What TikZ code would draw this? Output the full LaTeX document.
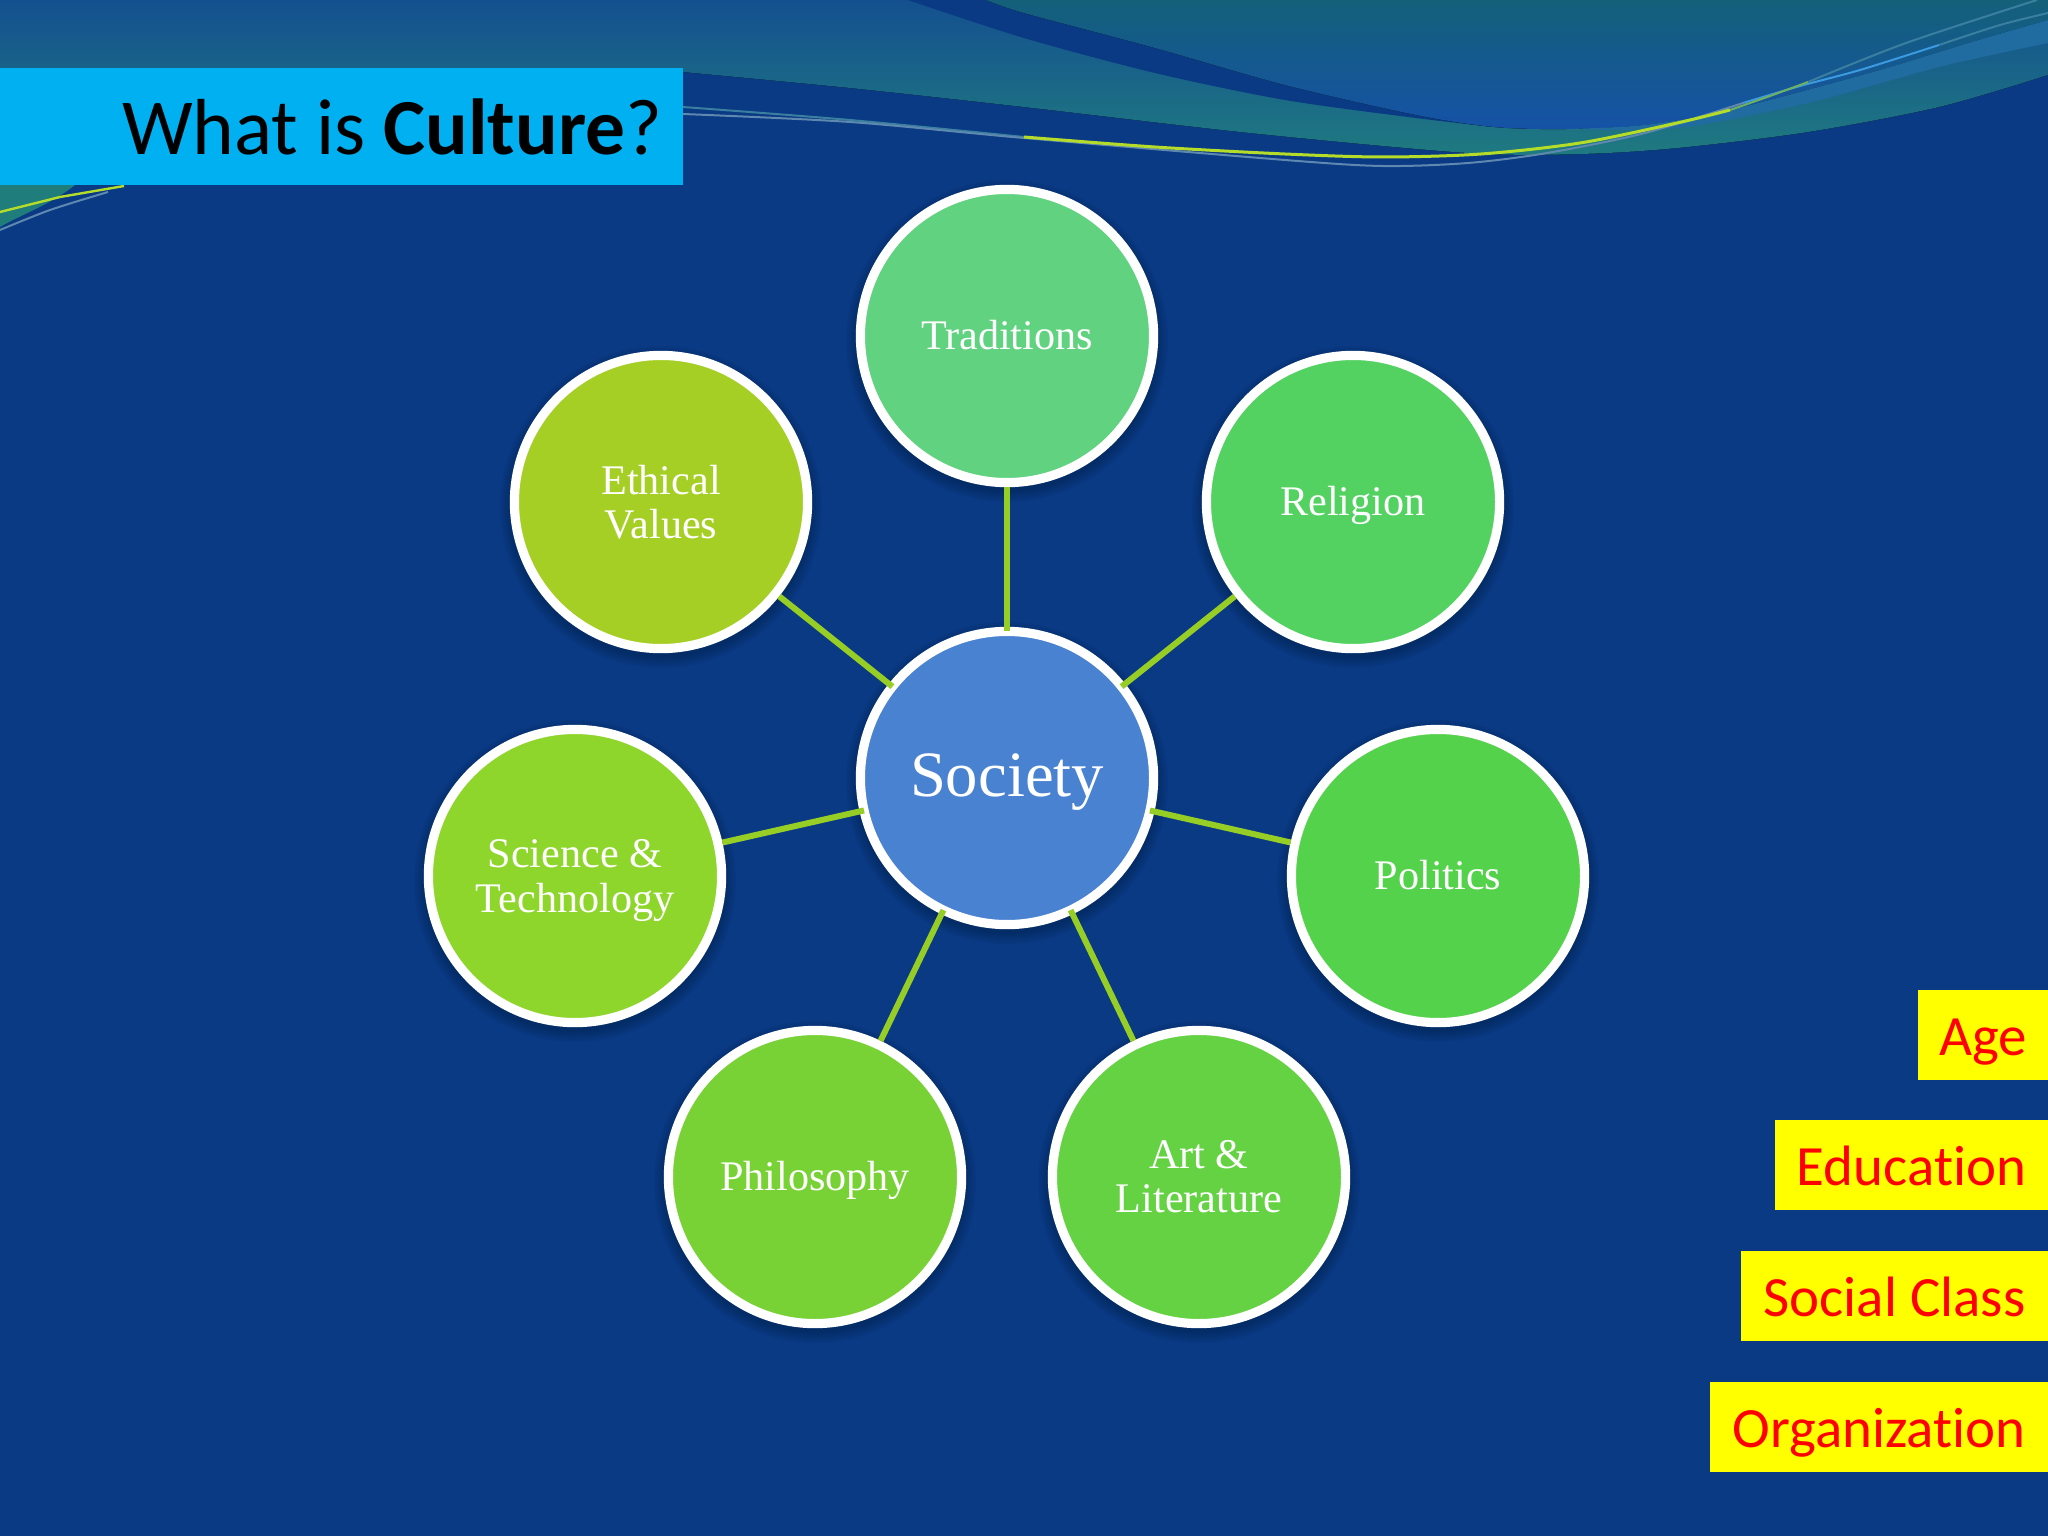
\documentclass[tikz,border=0pt]{standalone}
\usepackage{fontspec}
\setmainfont{Liberation Serif}
\newfontfamily\carlito[Ligatures=NoCommon]{Carlito}
\definecolor{bgblue}{HTML}{0A3A84}
\definecolor{skytop}{HTML}{14607A}
\definecolor{skybot}{HTML}{1552A6}
\definecolor{bandtop}{HTML}{14508F}
\definecolor{bandbot}{HTML}{1F7A80}
\definecolor{lightband}{HTML}{206CA0}
\definecolor{tealpatch}{HTML}{1F7E7C}
\definecolor{titlebox}{HTML}{00B0F0}
\definecolor{spoke}{HTML}{96CE26}
\definecolor{linegrey}{HTML}{5E88B0}
\definecolor{lineup}{HTML}{3A7FA0}
\definecolor{linebright}{HTML}{3C9AE0}
\definecolor{lineyel}{HTML}{B4DC28}
\definecolor{linegreen}{HTML}{6FB060}
\definecolor{tagyellow}{HTML}{FFFF00}
\definecolor{tagred}{HTML}{FF0000}
\definecolor{cTrad}{HTML}{60D280}
\definecolor{cRel}{HTML}{53D262}
\definecolor{cPol}{HTML}{55D24C}
\definecolor{cArt}{HTML}{65D244}
\definecolor{cPhi}{HTML}{78D236}
\definecolor{cSci}{HTML}{8FD62C}
\definecolor{cEth}{HTML}{A6CF26}
\definecolor{cSoc}{HTML}{4A82D2}
\tikzset{
  x=0.05cm,y=-0.05cm,
  bubble/.style={circle,draw=white,line width=0.46cm,minimum size=14.66cm,inner sep=0pt,outer sep=0pt,text=white,align=center,font=\fontsize{60}{63}\selectfont},
  oneline/.style={text height=50pt,text depth=13pt},
  spokeline/.style={draw=spoke,line width=0.3cm,shorten >=0.23cm},
  tag/.style={fill=tagyellow,text=tagred,anchor=north east,inner sep=0pt,outer sep=0pt,minimum height=4.5cm,text height=77pt,text depth=19pt,font=\carlito\fontsize{81}{88}\selectfont},
  thinline/.style={line width=0.1cm},
}
\newcommand{\softshadow}[2]{%
  \foreach \d in {10,8,6,4,2,0}{\fill[black,opacity=0.035] (#1,#2+5) circle ({(151+\d)*0.05cm});}}
\begin{document}
\begin{tikzpicture}
\useasboundingbox (0,0) rectangle (2048,1536);
\fill[bgblue] (0,0) rectangle (2048,1536);
% main sweep
\fill[top color=bandtop,bottom color=bandbot] (0,0) -- (2048,0) -- (2048,75) -- plot[smooth] coordinates {(2048,75) (1939,107) (1808,132) (1677,148) (1580,154) (1468,153) (1250,133) (1024,107) (850,88) (683,72)} -- (600,100) -- (0,100) -- cycle;
% dark wedge
\fill[bgblue] plot[smooth] coordinates {(908,0) (1024,38) (1155,73) (1285,100) (1416,118) (1494,127)} -- plot[smooth] coordinates {(1494,127) (1416,115) (1285,85) (1155,48) (1024,13) (986,0)} -- cycle;
% sky
\fill[top color=skytop,bottom color=skybot] plot[smooth] coordinates {(986,0) (1024,13) (1155,48) (1285,85) (1416,115) (1494,127) (1566,129) (1645,125) (1730,110) (1873,72) (1972,42) (2048,20)} -- (2048,0) -- cycle;
% lighter band
\fill[lightband] plot[smooth] coordinates {(1566,129) (1645,125) (1730,110) (1873,72) (1972,42) (2048,20)} -- (2048,43) -- plot[smooth] coordinates {(2048,43) (1939,67) (1808,103) (1677,128) (1566,129)} -- cycle;
% bottom-left sweep
\fill[tealpatch] (0,185) -- (75,185) .. controls (50,205) and (20,215) .. (0,227) -- cycle;
% thin lines
\draw[lineup,thinline] plot[smooth] coordinates {(683,107) (850,120) (1024,137)};
\draw[linegrey,thinline] plot[smooth] coordinates {(683,114) (850,122) (1024,138) (1285,160) (1383,166) (1468,163) (1547,153) (1645,133) (1743,103)};
\draw[linebright,thinline] plot[smooth] coordinates {(1743,103) (1800,86) (1860,70) (1939,45)};
\draw[lineup,thinline] plot[smooth] coordinates {(1939,45) (2000,25) (2048,13)};
\draw[lineup,thinline] plot[smooth] coordinates {(1808,82) (1906,43) (2037,0)};
\draw[linegreen,thinline] plot[smooth] coordinates {(1730,110) (1770,96) (1808,82)};
\draw[lineyel,line width=0.15cm] plot[smooth] coordinates {(1024,137) (1155,147) (1285,154) (1383,157) (1481,154) (1580,143) (1677,123) (1730,110)};
\draw[lineyel,line width=0.12cm] (124,186) -- (60,197) -- (0,212);
\draw[linegrey,thinline] plot[smooth] coordinates {(108,192) (50,210) (0,230)};
% shadows
\softshadow{1007}{336}\softshadow{1353}{502}\softshadow{1438}{876}\softshadow{1199}{1177}\softshadow{815}{1177}\softshadow{575}{876}\softshadow{661}{502}\softshadow{1007}{778}
% bubbles
\node[bubble,fill=cSoc,font=\fontsize{92}{96}\selectfont,text height=72pt,text depth=18pt] (soc) at (1007,778) {Society};
\node[bubble,oneline,fill=cTrad] (trad) at (1007,336) {Traditions};
\node[bubble,oneline,fill=cRel] (rel) at (1353,502) {Religion};
\node[bubble,oneline,fill=cPol] (pol) at (1438,876) {Politics};
\node[bubble,fill=cArt] (art) at (1199,1177) {Art \&\\Literature};
\node[bubble,oneline,fill=cPhi] (phi) at (815,1177) {Philosophy};
\node[bubble,fill=cSci] (sci) at (575,876) {Science \&\\\smash{Technology}};
\node[bubble,fill=cEth] (eth) at (661,502) {Ethical\\Values};
% spokes
\foreach \n in {trad,rel,pol,art,phi,sci,eth}{\draw[spokeline] (soc) -- (\n);}
% title
\node[fill=titlebox,minimum width=34.15cm,minimum height=5.85cm,inner sep=0pt,outer sep=0pt,anchor=north west] (titlebg) at (0,68) {};
\node[anchor=base west,inner sep=0pt,font=\carlito\fontsize{113}{120}\selectfont] (title) at (122,155) {What is \textbf{Culture}?};
% tags
\node[tag,minimum width=6.5cm] (age) at (2048,990) {Age};
\node[tag,minimum width=13.65cm] (edu) at (2048,1120) {Education};
\node[tag,minimum width=15.35cm] (soccl) at (2048,1251) {Social Class};
\node[tag,minimum width=16.9cm] (org) at (2048,1382) {Organization};
\end{tikzpicture}
\end{document}
